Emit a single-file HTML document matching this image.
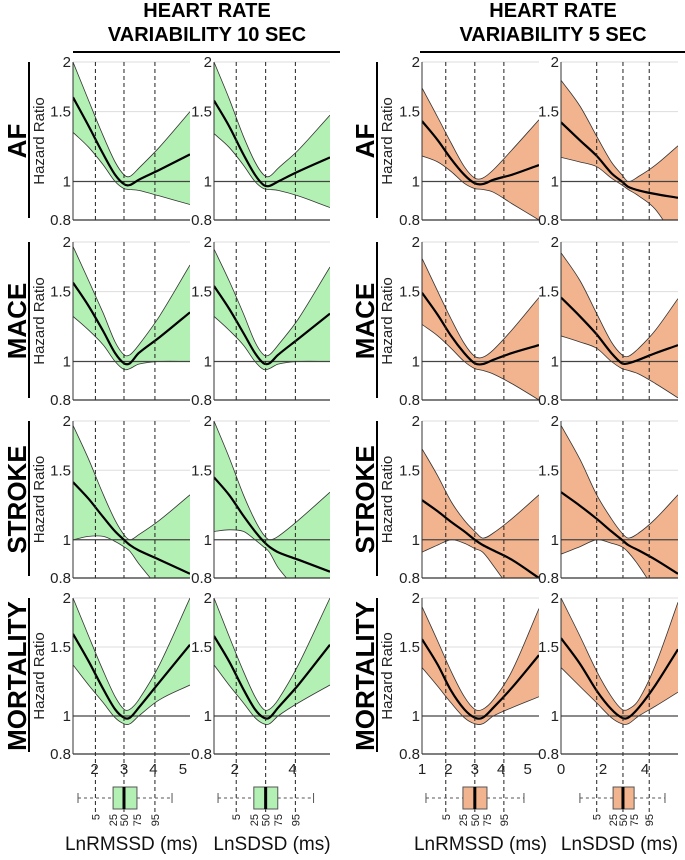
<!DOCTYPE html>
<html><head><meta charset="utf-8"><style>
html,body{margin:0;padding:0;background:#fff}
svg{display:block;font-family:"Liberation Sans",sans-serif}
</style></head><body>
<svg id="fig" width="685" height="860" viewBox="0 0 685 860" xmlns="http://www.w3.org/2000/svg">
<g>
<text x="207" y="17" text-anchor="middle" font-size="20" font-weight="bold">HEART RATE</text>
<text x="207" y="41" text-anchor="middle" font-size="20" font-weight="bold">VARIABILITY 10 SEC</text>
<line x1="73" y1="52" x2="340" y2="52" stroke="#000" stroke-width="2"/>
</g>
<g>
<text x="553" y="17" text-anchor="middle" font-size="20" font-weight="bold">HEART RATE</text>
<text x="553" y="41" text-anchor="middle" font-size="20" font-weight="bold">VARIABILITY 5 SEC</text>
<line x1="420" y1="52" x2="685" y2="52" stroke="#000" stroke-width="2"/>
</g>
</svg>
<script>
const rowNames = ["AF","MACE","STROKE","MORTALITY"];
const yTicks = [0.8,1,1.5,2];
const yTickLabels = ["0.8","1","1.5","2"];
const col1X = [1.27,1.8,2.3,2.7,3.0,3.2,3.5,4.2,5.24];
const col2X = [1.28,1.8,2.3,2.7,3.0,3.2,3.5,4.2,5.3];
const col3X = [1,1.6,2.1,2.6,3.0,3.3,3.7,4.4,5.43];
const col4X = [0,0.9,1.7,2.4,2.9,3.2,3.7,4.5,5.57];
const col1XTicks = [2,3,4,5];
const col2XTicks = [2,4];
const col3XTicks = [1,2,3,4,5];
const col4XTicks = [0,2,4];
// percentile values: [whiskerLo, p5, p25, p50, p75, p95, whiskerHi]
const col1Pct = [1.44,2.03,2.63,3.0,3.44,4.05,4.63];
const col2Pct = [1.42,2.05,2.66,3.07,3.49,4.1,4.73];
const col3Pct = [1.15,1.9,2.55,3.0,3.46,4.1,4.86];
const col4Pct = [0.9,1.7,2.48,2.95,3.48,4.2,4.95];
// hazard ratio series per panel [row][col]
const meanAF = [[1.63,1.38,1.17,1.04,0.985,0.98,1.01,1.07,1.17],[1.6,1.38,1.17,1.04,0.98,0.975,1.0,1.06,1.15],[1.42,1.27,1.14,1.04,0.99,0.985,1.01,1.04,1.1],[1.41,1.27,1.16,1.05,1.0,0.97,0.95,0.93,0.91]];
const hiAF = [[2.0,1.6,1.3,1.12,1.04,1.03,1.08,1.22,1.5],[2.0,1.62,1.3,1.12,1.04,1.03,1.08,1.2,1.47],[1.72,1.45,1.25,1.09,1.02,1.02,1.07,1.2,1.43],[1.8,1.55,1.3,1.12,1.04,1.0,1.03,1.1,1.23]];
const loAF = [[1.33,1.22,1.1,1.0,0.96,0.955,0.95,0.92,0.875],[1.32,1.22,1.1,1.0,0.96,0.955,0.95,0.92,0.86],[1.16,1.12,1.06,0.99,0.96,0.955,0.94,0.88,0.8],[1.15,1.12,1.09,1.02,0.98,0.955,0.92,0.85,0.7]];
const meanMACE = [[1.58,1.38,1.19,1.05,0.99,0.99,1.05,1.15,1.33],[1.55,1.36,1.18,1.05,0.99,0.99,1.04,1.14,1.32],[1.49,1.31,1.16,1.05,0.99,0.985,1.01,1.05,1.1],[1.45,1.3,1.17,1.05,0.99,0.99,1.01,1.05,1.1]];
const hiMACE = [[1.95,1.6,1.32,1.12,1.04,1.04,1.1,1.3,1.75],[1.92,1.6,1.32,1.12,1.04,1.04,1.1,1.28,1.73],[1.82,1.5,1.28,1.11,1.03,1.025,1.07,1.2,1.45],[1.88,1.6,1.32,1.12,1.04,1.03,1.08,1.2,1.44]];
const loMACE = [[1.3,1.2,1.1,1.0,0.955,0.96,0.985,1.0,1.0],[1.3,1.2,1.1,1.0,0.955,0.96,0.985,1.0,1.0],[1.24,1.16,1.08,1.0,0.96,0.95,0.93,0.88,0.8],[1.16,1.12,1.08,1.0,0.96,0.95,0.93,0.88,0.81]];
const meanSTROKE = [[1.4,1.27,1.14,1.05,1.0,0.97,0.94,0.89,0.82],[1.44,1.3,1.15,1.05,0.99,0.96,0.93,0.89,0.83],[1.26,1.18,1.11,1.05,1.0,0.97,0.94,0.89,0.8],[1.32,1.22,1.13,1.05,1.0,0.97,0.94,0.89,0.82]];
const hiSTROKE = [[1.95,1.6,1.3,1.12,1.03,1.0,1.03,1.12,1.3],[2.0,1.62,1.3,1.12,1.03,1.0,1.02,1.12,1.32],[1.7,1.45,1.25,1.12,1.05,1.01,1.04,1.13,1.3],[1.95,1.6,1.3,1.13,1.04,1.01,1.04,1.13,1.3]];
const loSTROKE = [[1.0,1.02,1.02,0.99,0.96,0.935,0.87,0.75,0.6],[1.05,1.06,1.05,1.0,0.96,0.93,0.85,0.74,0.6],[0.93,0.97,1.0,0.98,0.95,0.93,0.86,0.74,0.6],[0.92,0.96,1.0,0.98,0.96,0.93,0.86,0.74,0.6]];
const meanMORT = [[1.62,1.38,1.17,1.04,0.99,0.99,1.05,1.22,1.52],[1.6,1.38,1.17,1.04,0.99,0.99,1.05,1.2,1.52],[1.57,1.35,1.16,1.04,0.99,0.99,1.05,1.18,1.43],[1.58,1.36,1.16,1.04,0.99,0.99,1.05,1.2,1.48]];
const hiMORT = [[2.0,1.6,1.3,1.12,1.04,1.04,1.1,1.35,2.0],[2.0,1.6,1.3,1.12,1.04,1.04,1.1,1.35,2.0],[1.9,1.55,1.3,1.12,1.04,1.04,1.1,1.3,1.88],[2.0,1.6,1.3,1.12,1.04,1.04,1.1,1.35,1.95]];
const loMORT = [[1.35,1.2,1.08,0.99,0.955,0.955,1.0,1.1,1.2],[1.35,1.2,1.08,0.99,0.955,0.955,1.0,1.08,1.2],[1.33,1.19,1.08,0.99,0.955,0.955,1.0,1.05,1.12],[1.33,1.19,1.08,0.99,0.955,0.955,1.0,1.06,1.15]];

const NS="http://www.w3.org/2000/svg";
const svg=document.getElementById('fig');
function mk(tag,attrs,parent){const e=document.createElementNS(NS,tag);for(const k in attrs)e.setAttribute(k,attrs[k]);(parent||svg).appendChild(e);return e;}
const cols=[
 {x0:73,x1:190,dom:[1.27,5.24],xs:col1X,ticks:col1XTicks,pct:col1Pct,fill:"#b3f0b3",lab:"LnRMSSD (ms)"},
 {x0:214,x1:330,dom:[1.28,5.3],xs:col2X,ticks:col2XTicks,pct:col2Pct,fill:"#b3f0b3",lab:"LnSDSD (ms)"},
 {x0:422,x1:539,dom:[1,5.43],xs:col3X,ticks:col3XTicks,pct:col3Pct,fill:"#f2b48e",lab:"LnRMSSD (ms)"},
 {x0:561,x1:678,dom:[0,5.57],xs:col4X,ticks:col4XTicks,pct:col4Pct,fill:"#f2b48e",lab:"LnSDSD (ms)"}];
const rowsY=[[62,220],[242,400],[421,578],[598,754]];
const series=[[meanAF,hiAF,loAF],[meanMACE,hiMACE,loMACE],[meanSTROKE,hiSTROKE,loSTROKE],[meanMORT,hiMORT,loMORT]];
function spline(p){let d="M"+p[0][0].toFixed(1)+","+p[0][1].toFixed(1);
 for(let i=0;i<p.length-1;i++){const a=p[i-1]||p[i],b=p[i],c=p[i+1],e=p[i+2]||c;
  const h=c[0]-b[0];
  const s1=(c[1]-a[1])/((c[0]-a[0])||1), s2=(e[1]-b[1])/((e[0]-b[0])||1);
  const c1=[b[0]+h/3,b[1]+s1*h/3],c2=[c[0]-h/3,c[1]-s2*h/3];
  d+=" C"+c1.map(v=>v.toFixed(1))+" "+c2.map(v=>v.toFixed(1))+" "+c[0].toFixed(1)+","+c[1].toFixed(1);}
 return d;}
rowNames.forEach((rn,r)=>{
 const [ty,by]=rowsY[r];
 const ys=v=>ty+(Math.log(2/v)/Math.log(2/0.8))*(by-ty);
 const cy=(ty+by)/2;
 [0,2].forEach(ci=>{const bx=ci===0?0:348;
  const g=mk('g',{});
  
  
  const t=mk('text',{x:0,y:0,'font-size':26,'font-weight':'bold','text-anchor':'middle',transform:`translate(${bx+26},${cy}) rotate(-90)`},g);t.textContent=rn;
  mk('line',{x1:bx+29,y1:ty,x2:bx+29,y2:by-2,stroke:'#000','stroke-width':2},g);
  const h=mk('text',{x:0,y:0,'font-size':15,'text-anchor':'middle',fill:'#222',transform:`translate(${bx+44},${cy}) rotate(-90)`},g);h.textContent="Hazard Ratio";
 });
 cols.forEach((c,ci)=>{
  const xs=v=>c.x0+(v-c.dom[0])/(c.dom[1]-c.dom[0])*(c.x1-c.x0);
  const g=mk('g',{});
  
  
  const cid='clip'+r+ci;
  const cp=mk('clipPath',{id:cid},g);mk('rect',{x:c.x0,y:ty,width:c.x1-c.x0,height:by-ty},cp);
  [1.5,2].forEach(v=>{const l=mk('line',{x1:c.x0,x2:c.x1,y1:ys(v),y2:ys(v),stroke:'#ddd','stroke-width':1},g);
   });
  const m=series[r][0][ci],hi=series[r][1][ci],lo=series[r][2][ci];
  const ph=c.xs.map((x,i)=>[xs(x),ys(hi[i])]),pl=c.xs.map((x,i)=>[xs(x),ys(lo[i])]).reverse();
  const band=mk('path',{d:spline(ph)+" L"+pl[0][0]+","+pl[0][1].toFixed(1)+spline(pl).replace(/^M[^C]*/,' ')+" Z",fill:c.fill,stroke:'none','clip-path':`url(#${cid})`},g);
  
  [ph,pl].forEach(p=>{const e=mk('path',{d:spline(p),fill:'none',stroke:'#333','stroke-width':0.8,'clip-path':`url(#${cid})`},g);
   });
  const ref=mk('line',{x1:c.x0,x2:c.x1,y1:ys(1),y2:ys(1),stroke:'#444','stroke-width':1.2},g);
  
  const ml=mk('path',{d:spline(c.xs.map((x,i)=>[xs(x),ys(m[i])])),fill:'none',stroke:'#000','stroke-width':2.2,'clip-path':`url(#${cid})`},g);
  
  const yb=r===3?815:by;
  [c.pct[1],c.pct[3],c.pct[5]].forEach(v=>{const l=mk('line',{x1:xs(v),x2:xs(v),y1:ty,y2:yb,stroke:'#222','stroke-width':1,'stroke-dasharray':'4,3'},g);
   });
  mk('line',{x1:c.x0,x2:c.x0,y1:ty,y2:by,stroke:'#333','stroke-width':1},g);
  mk('line',{x1:c.x0,x2:c.x1,y1:by,y2:by,stroke:'#333','stroke-width':1.2},g);
  yTicks.forEach((v,i)=>{const t=mk('text',{x:c.x0-2,y:ys(v)+5,'font-size':15,'text-anchor':'end',fill:'#222'},g);t.textContent=yTickLabels[i];
   });
  if(r===3){
   c.ticks.forEach(v=>{const t=mk('text',{x:xs(v),y:774,'font-size':15,'text-anchor':'middle',fill:'#222'},g);t.textContent=String(v);
    });
   const bp=mk('g',{},g);
   
   const p=c.pct;
   mk('line',{x1:xs(p[0]),x2:xs(p[2]),y1:798,y2:798,stroke:'#555','stroke-dasharray':'3,3'},bp);
   mk('line',{x1:xs(p[4]),x2:xs(p[6]),y1:798,y2:798,stroke:'#555','stroke-dasharray':'3,3'},bp);
   mk('line',{x1:xs(p[0]),x2:xs(p[0]),y1:793,y2:803,stroke:'#555'},bp);
   mk('line',{x1:xs(p[6]),x2:xs(p[6]),y1:793,y2:803,stroke:'#555'},bp);
   mk('rect',{x:xs(p[2]),y:787,width:xs(p[4])-xs(p[2]),height:22,fill:c.fill,stroke:'#555'},bp);
   mk('line',{x1:xs(p[3]),x2:xs(p[3]),y1:787,y2:809,stroke:'#000','stroke-width':3},bp);
   [["5",p[1]],["25",p[2]],["50",p[3]],["75",p[4]],["95",p[5]]].forEach(([s,v])=>{
    const t=mk('text',{x:0,y:0,'font-size':11,'text-anchor':'end',fill:'#222',transform:`translate(${xs(v)+4},${814}) rotate(-90)`},bp);t.textContent=s;});
   const xl=mk('text',{x:(c.x0+c.x1)/2,y:850,'font-size':19,'text-anchor':'middle',fill:'#111'},g);xl.textContent=c.lab;
   
  }
 });
});
</script>
</body></html>
